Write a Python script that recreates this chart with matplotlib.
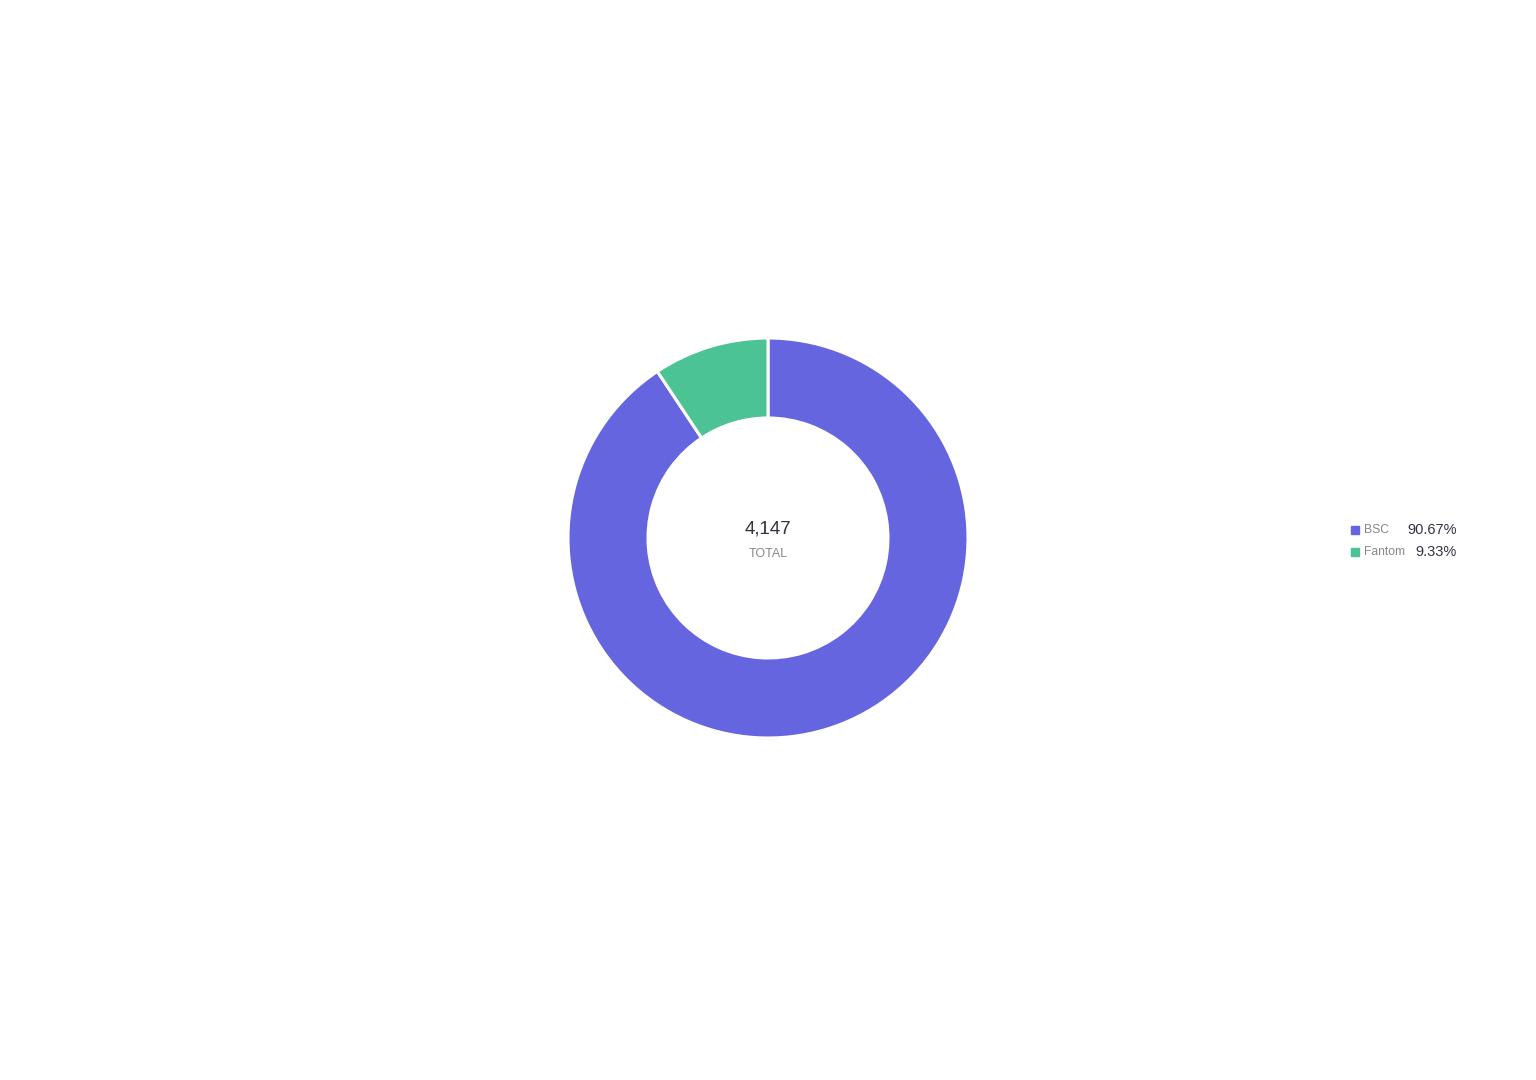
import matplotlib
matplotlib.use("Agg")
import matplotlib.pyplot as plt
from matplotlib.patches import Rectangle

plt.rcParams['font.family'] = ['Liberation Sans', 'DejaVu Sans']

# chain share of total
labels = ["BSC", "Fantom"]
values = [3760, 387]
colors = ["#6565e0", "#4bc394"]

W, H = 1536, 1080
total = sum(values)

fig = plt.figure(figsize=(W / 100, H / 100), dpi=100)

# donut: center (768, 538) px, outer radius 200 px
cx, cy, r = 768, 538, 200
ax = fig.add_axes([(cx - r) / W, (H - cy - r) / H, 2 * r / W, 2 * r / H])
ax.pie(values, colors=colors, startangle=90, counterclock=False, radius=1,
       wedgeprops=dict(width=0.4, edgecolor="white", linewidth=2.2))
ax.set_xlim(-1, 1)
ax.set_ylim(-1, 1)
ax.set_aspect("equal")
ax.axis("off")

fig.text(cx / W, 1 - 529 / H, f"{total:,}", ha="center", va="center",
         fontsize=13.5, color="#333340")
fig.text(cx / W, 1 - 554 / H, "TOTAL", ha="center", va="center",
         fontsize=9, color="#888888")

# legend drawn in figure pixels
for i, (lab, val, col) in enumerate(zip(labels, values, colors)):
    y = 530 + i * 22
    fig.patches.append(Rectangle((1351 / W, 1 - (y + 4) / H), 8 / W, 8 / H,
                                 transform=fig.transFigure, color=col))
    fig.text(1364 / W, 1 - y / H, lab, ha="left", va="center",
             fontsize=8.7, color="#888888")
    fig.text(1457 / W, 1 - y / H, f"{val / total * 100:.2f}%", ha="right",
             va="center", fontsize=10.5, color="#333340")

fig.savefig("out.png", dpi=100)
